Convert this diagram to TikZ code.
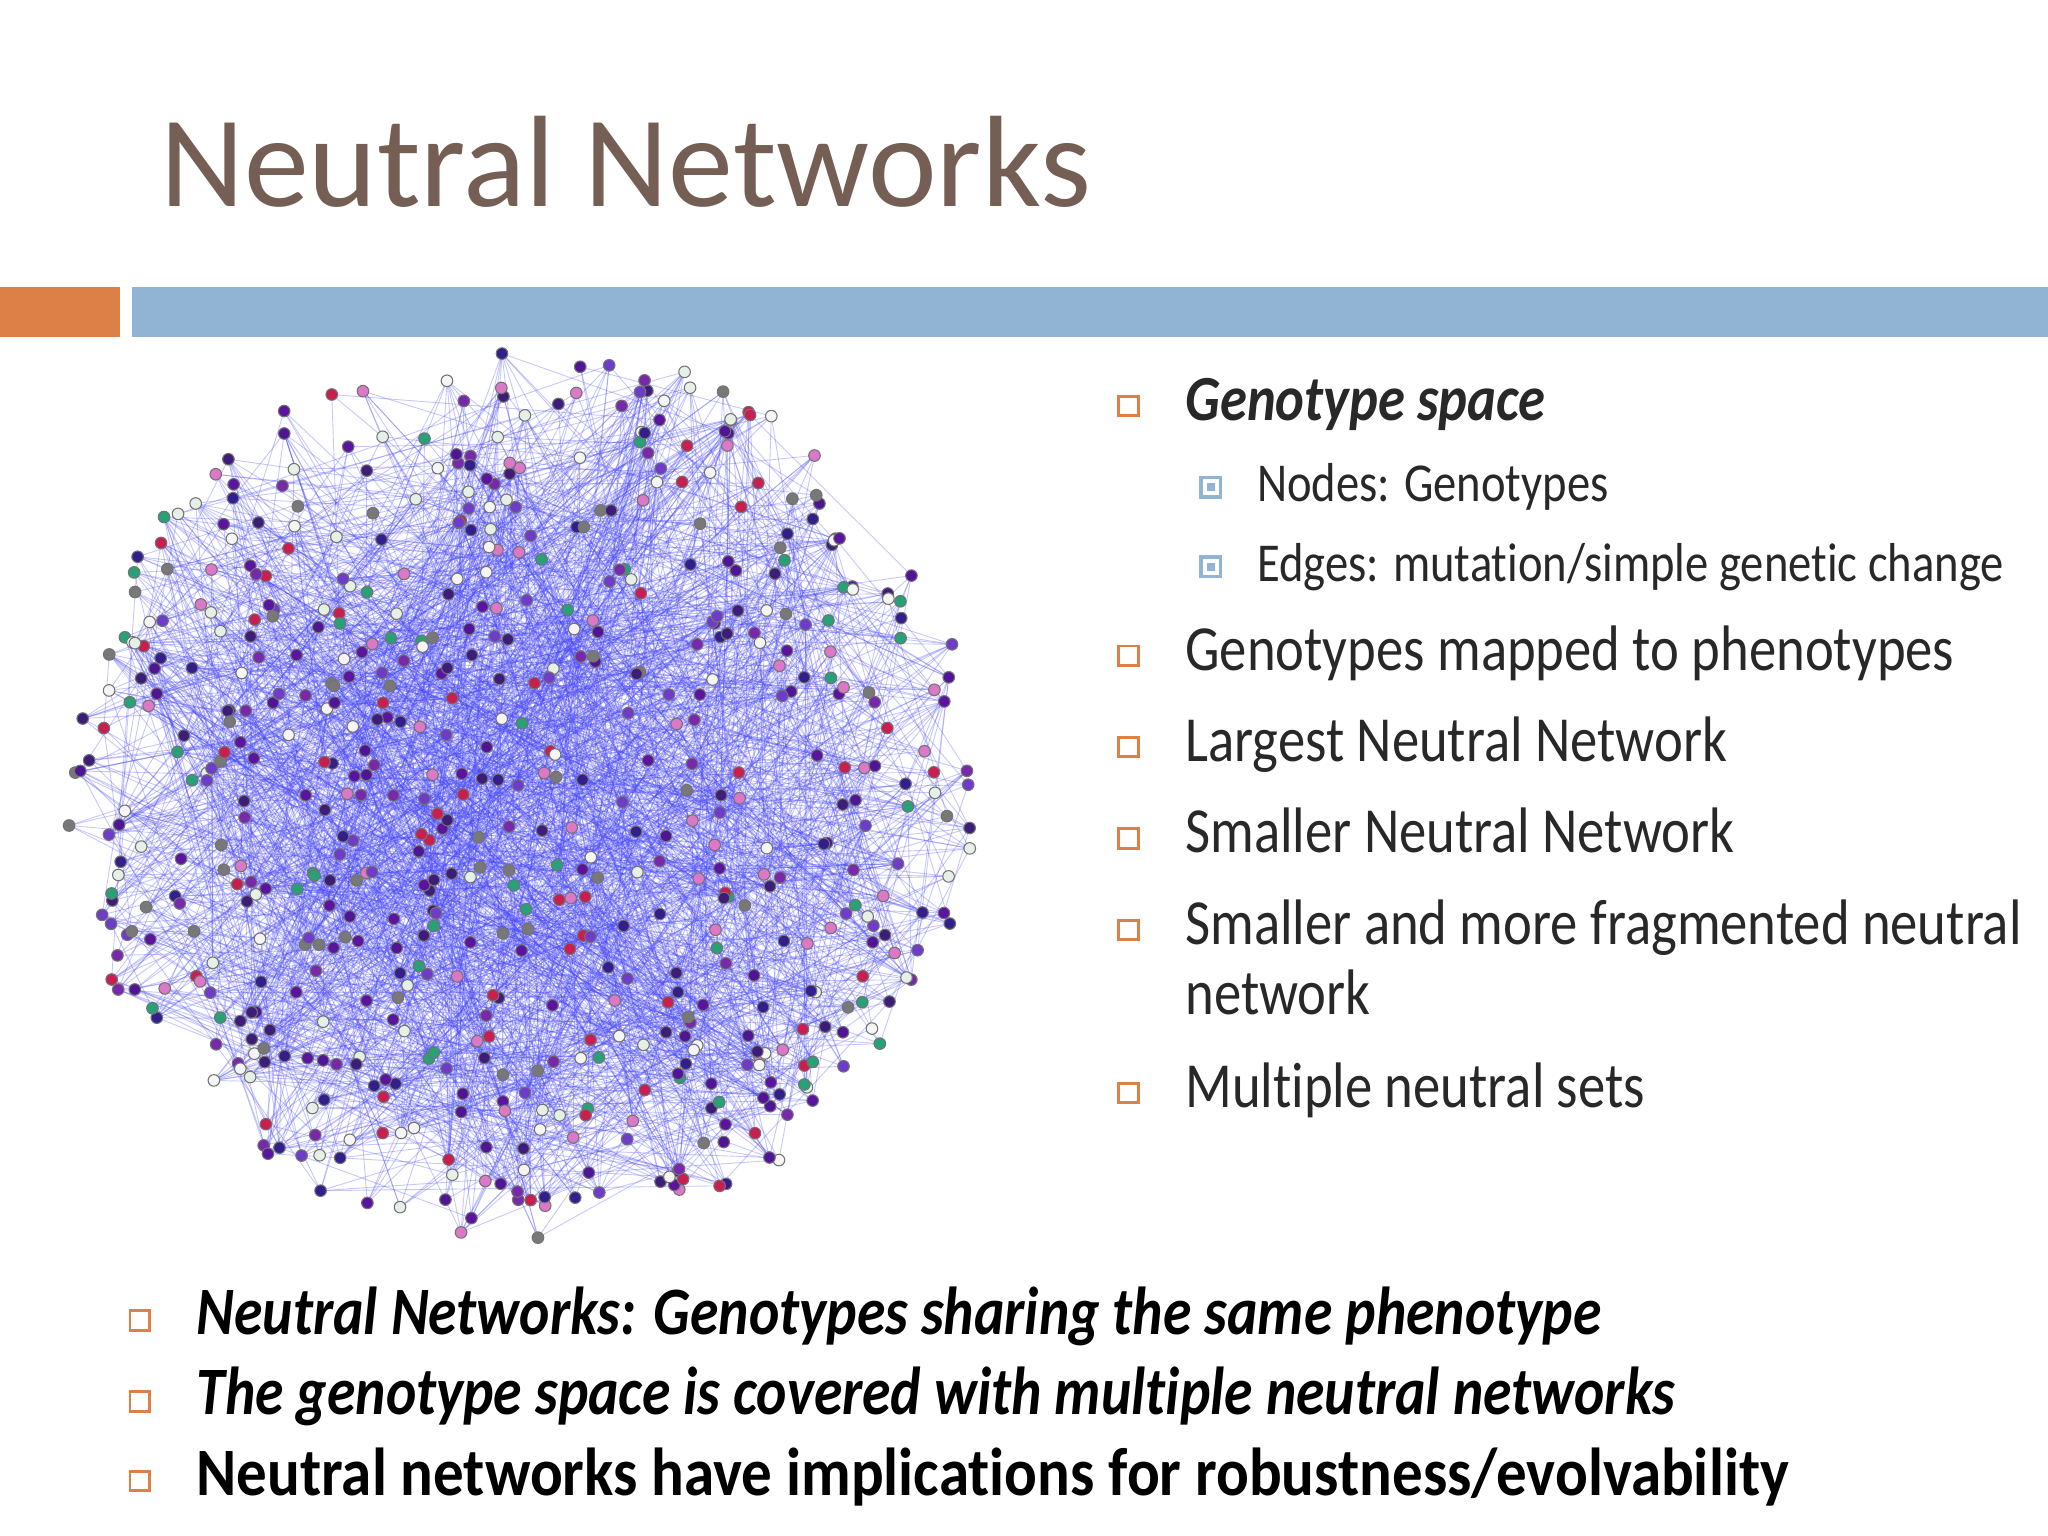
\documentclass[tikz,border=0pt]{standalone}
\usepackage{fontspec}
\setmainfont{Carlito}[FakeStretch=0.85,RawFeature=-liga]
\newfontfamily\titlefont{Carlito}
\newfontfamily\widefont{Carlito}[FakeStretch=0.9,RawFeature=-liga]
\definecolor{titlec}{RGB}{117,95,85}
\definecolor{orangec}{RGB}{221,128,71}
\definecolor{bluec}{RGB}{146,180,212}
\definecolor{txt}{RGB}{40,40,40}
\definecolor{edgec}{RGB}{70,70,250}
\definecolor{c1}{RGB}{80,20,150}
\definecolor{c2}{RGB}{200,30,80}
\definecolor{c3}{RGB}{245,245,245}
\definecolor{c4}{RGB}{40,160,120}
\definecolor{c5}{RGB}{120,120,120}
\definecolor{c6}{RGB}{220,120,200}
\definecolor{c7}{RGB}{110,60,200}
\definecolor{c8}{RGB}{60,30,120}
\definecolor{c9}{RGB}{230,240,230}
\definecolor{c10}{RGB}{120,40,170}
\definecolor{c11}{RGB}{90,20,160}
\definecolor{c12}{RGB}{50,30,140}
\tikzset{
  edge/.style={draw=edgec, opacity=0.3, line width=0.25pt},
  gnode/.style={circle, draw=black!55, line width=0.3pt, inner sep=0pt, minimum size=3.3pt},
  obul/.style={draw=orangec, line width=0.8pt, minimum size=5.5pt, inner sep=0pt},
  bbul/.style={draw=bluec, line width=1pt, minimum size=5.5pt, inner sep=0pt},
  item/.style={anchor=base west, text=txt, font=\fontsize{18.3}{22}\selectfont, inner sep=0pt},
  sub/.style={anchor=base west, text=txt, font=\fontsize{15.6}{19}\selectfont, inner sep=0pt},
  btm/.style={anchor=base west, text=black, font=\fontsize{19.3}{24}\selectfont\bfseries\itshape, inner sep=0pt}
}
\begin{document}
\begin{tikzpicture}[x=0.013061cm,y=-0.013061cm]
\useasboundingbox (0,0) rectangle (1568,1176);
\fill[white] (0,0) rectangle (1568,1176);
\node[anchor=base west, text=titlec, font=\titlefont\fontsize{37}{44}\selectfont, inner sep=0pt] (title) at (122,158) {Neutral Networks};
\fill[orangec] (0,220) rectangle (92,258);
\fill[bluec] (101,220) rectangle (1568,258);
% network
\pgfmathsetseed{7}
\foreach \i in {1,...,640}{
  \pgfmathsetmacro\ang{rnd*360}
  \pgfmathsetmacro\rr{sqrt(rnd)*1.04}
  \coordinate (p\i) at ({400+335*\rr*cos(\ang)},{605+330*\rr*sin(\ang)});
}
\foreach \k in {1,...,2300}{
  \pgfmathrandominteger\ea{1}{640}
  \pgfmathrandominteger\eb{1}{640}
  \draw[edge] (p\ea) -- (p\eb);
}
\foreach \i in {1,...,640}{
  \pgfmathrandominteger\cc{1}{12}
  \node[gnode, fill=c\cc] (n\i) at (p\i) {};
}
% right bullets
\node[obul] (b1) at (864,311) {};
\node[item, font=\fontsize{18.3}{22}\selectfont\bfseries\itshape] (t1) at (907,322) {Genotype space};
\node[bbul] (s1) at (927,373) {};
\fill[bluec] (s1.center) ++(-3,-3) rectangle ++(6,6);
\node[sub] (u1) at (962,384) {Nodes: Genotypes};
\node[bbul] (s2) at (927,434) {};
\fill[bluec] (s2.center) ++(-3,-3) rectangle ++(6,6);
\node[sub] (u2) at (962,445) {Edges: mutation/simple genetic change};
\node[obul] (b2) at (864,502) {};
\node[item] (t2) at (907,513) {Genotypes mapped to phenotypes};
\node[obul] (b3) at (864,572) {};
\node[item] (t3) at (907,583) {Largest Neutral Network};
\node[obul] (b4) at (864,642) {};
\node[item] (t4) at (907,653) {Smaller Neutral Network};
\node[obul] (b5) at (864,712) {};
\node[item] (t5) at (907,723) {Smaller and more fragmented neutral};
\node[item] (t5b) at (907,777) {network};
\node[obul] (b6) at (864,837) {};
\node[item] (t6) at (907,848) {Multiple neutral sets};
% bottom bullets
\node[obul] (d1) at (107,1011) {};
\node[btm] (e1) at (150,1022) {Neutral Networks: Genotypes sharing the same phenotype};
\node[obul] (d2) at (107,1073) {};
\node[btm] (e2) at (150,1083) {The genotype space is covered with multiple neutral networks};
\node[obul] (d3) at (107,1134) {};
\node[btm, font=\widefont\fontsize{19.3}{24}\selectfont\bfseries] (e3) at (150,1145) {Neutral networks have implications for robustness/evolvability};
\end{tikzpicture}
\end{document}
